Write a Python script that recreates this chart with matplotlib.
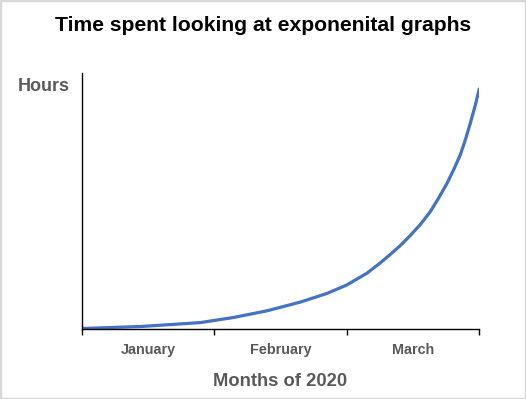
import numpy as np
import matplotlib
matplotlib.use("Agg")
import matplotlib.pyplot as plt
from matplotlib.patches import Rectangle

plt.rcParams['font.family'] = ['Liberation Sans', 'DejaVu Sans']

# values (x in month units, 0 = start of January)
months = ['January', 'February', 'March']
curve_x = [0.0, 0.451, 0.892, 1.144, 1.396, 1.648, 1.850, 2.0, 2.152, 2.252,
           2.328, 2.404, 2.479, 2.555, 2.630, 2.693, 2.757, 2.806, 2.857,
           2.895, 2.933, 2.971, 3.0]
curve_hours = [0.2, 1.0, 2.5, 4.5, 7.1, 10.5, 13.9, 17.2, 21.8, 25.8,
               29.1, 32.6, 36.5, 40.8, 45.8, 51.1, 56.9, 62.1, 68.0,
               73.8, 80.4, 87.5, 93.75]

grey = '#595959'

fig = plt.figure(figsize=(5.26, 3.99), dpi=100)
ax = fig.add_axes([0.156, 0.1754, 0.755, 0.6416])

ax.plot(curve_x, curve_hours, color='#4472C4', linewidth=2.3,
        solid_capstyle='round', solid_joinstyle='round')

ax.set_xlim(0, 3)
ax.set_ylim(0, 100)
ax.set_xticks([0, 1, 2, 3])
ax.set_xticklabels([])
ax.set_xticks([0.5, 1.5, 2.5], minor=True)
ax.set_xticklabels(months, minor=True, fontsize=10.4, fontweight='bold', color=grey)
ax.tick_params(axis='x', which='major', direction='out', length=4, width=1, color='black')
ax.tick_params(axis='x', which='minor', length=0, pad=10)
ax.set_yticks([])

for s in ['top', 'right']:
    ax.spines[s].set_visible(False)
for s in ['left', 'bottom']:
    ax.spines[s].set_color('black')
    ax.spines[s].set_linewidth(1)

fig.text(0.5, 0.937, 'Time spent looking at exponenital graphs', ha='center', va='center',
         fontsize=15.2, fontweight='bold', color='black')
fig.text(0.034, 0.782, 'Hours', ha='left', va='center', fontsize=13,
         fontweight='bold', color=grey)
fig.text(0.533, 0.045, 'Months of 2020', ha='center', va='center', fontsize=13.2,
         fontweight='bold', color=grey)

fig.patches.append(Rectangle((0, 0), 1, 1, transform=fig.transFigure, fill=False,
                             edgecolor='#d9d9d9', linewidth=2.5))

fig.savefig('out.png', dpi=100)
